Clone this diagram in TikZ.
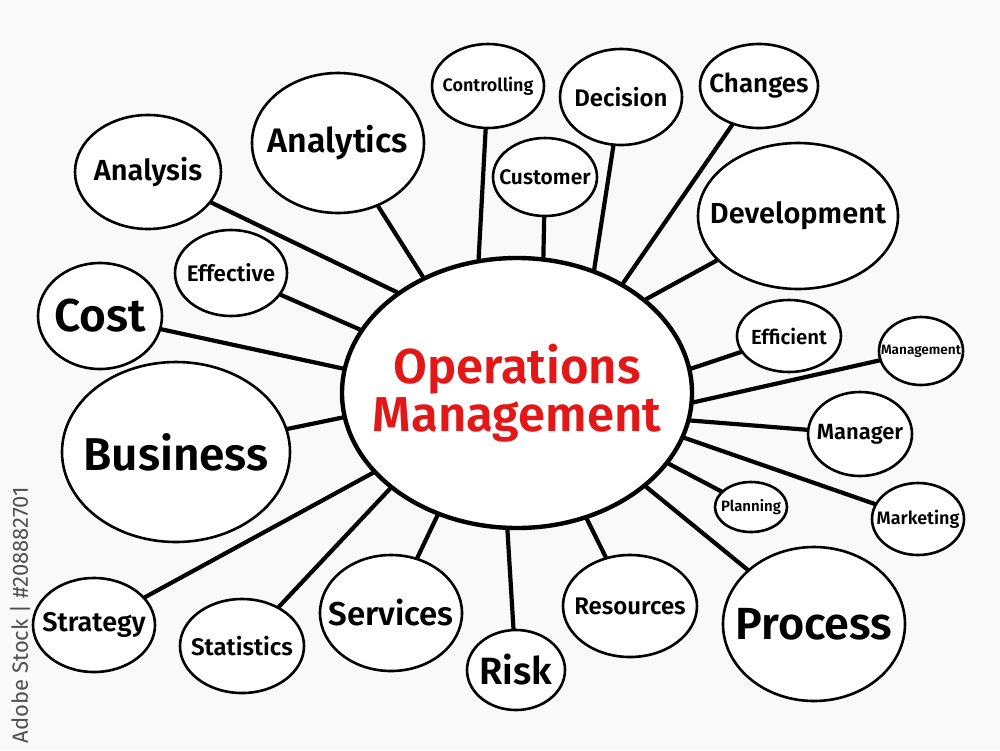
\documentclass[tikz,border=0pt]{standalone}
\usepackage{fontspec}
\setmainfont{Fira Sans}[UprightFont={* SemiBold}]
\newfontfamily\stockfont{Fira Sans}
\usepackage{tikz}
\usetikzlibrary{shapes.geometric}
\definecolor{omred}{RGB}{226,24,24}
\definecolor{paper}{RGB}{249,249,249}
\definecolor{stockgray}{RGB}{80,80,80}
\tikzset{bub/.style={ellipse,draw,fill=white,line width=1.3pt,inner sep=0pt},
link/.style={line width=2.1pt,line cap=round}}

\begin{document}
\begin{tikzpicture}[x=0.5pt,y=-0.5pt]
\fill[paper] (0,0) rectangle (1000,750);
\useasboundingbox (0,0) rectangle (1000,750);
% central bubble
\node (om) at (517,393) [ellipse,draw,fill=white,line width=2.2pt,minimum width=175pt,minimum height=135pt] {};
\node (omt) at (om) [text=omred,font=\fontsize{24.5}{24}\selectfont,align=center] {Operations\\Management};
% satellites: name/x/y/width/height/font size/text/angle on centre
\foreach \n/\x/\y/\w/\h/\s/\t/\a in {
anl/148/172/73/57/14.5/Analysis/140,
ant/338/143/86/70/17/Analytics/129,
ctl/488/86/56/42/9/Controlling/106,
dec/621/97/61/48/12/Decision/58,
chg/759/86/59/42/13/Changes/46,
cus/545/177/52/39/10.5/Customer/79,
dev/798/216/100/73/14.5/Development/36,
eff/231/273/56/43/11.2/Effective/158,
cst/100/316/62/53/23/Cost/172,
bus/176/452/114/90/23/Business/188,
efi/789/336/52/36/10.2/Efficient/8,
mgt/921/351/42/34/6.8/Management/357,
mgr/860/434/52/42/11/Manager/351,
mkt/918/519/46/36/9/Marketing/345,
pln/751/507/36/25/7.5/Planning/335,
prc/814/624/91/77/22.5/Process/324,
res/630/606/67/51/12/Resources/299,
rsk/516/670/49/40/19/Risk/266,
srv/391/613/71/58/16.5/Services/237,
sta/242/646/62/47/12/Statistics/217,
str/94/625/61/47/13.5/Strategy/209} {
\node (\n) at (\x,\y) [bub,minimum width=\w pt,minimum height=\h pt] {};
\node (\n-t) at (\n) [font=\fontsize{\s}{\s}\selectfont] {\t};
\draw[link] (\n) -- (om.\a);
}
\node (stock) at (20,615) [rotate=90,text=stockgray,font=\stockfont\fontsize{11}{11}\selectfont] {Adobe Stock | \#208882701};
\end{tikzpicture}
\end{document}
